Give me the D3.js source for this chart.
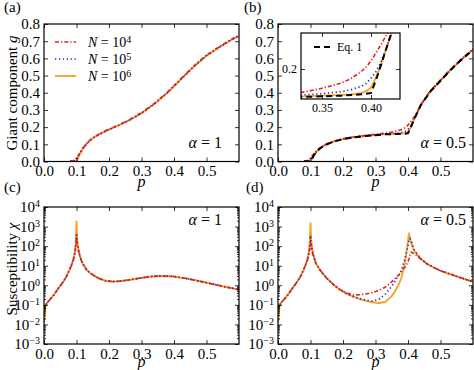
<!DOCTYPE html>
<html>
<head>
<meta charset="utf-8">
<script src="https://cdn.jsdelivr.net/npm/d3@7"></script>
<style>
body { margin: 0; background: #fff; }
text { font-family: "Liberation Serif", "DejaVu Serif", serif; fill: #000; }
</style>
</head>
<body>
<script>
const width = 474;
const height = 370;

// (a) giant component, alpha = 1
const pA  = [0.08, 0.09, 0.1, 0.11, 0.12, 0.13, 0.14, 0.15, 0.17, 0.2, 0.23, 0.26, 0.3, 0.34, 0.38, 0.42, 0.46, 0.5, 0.54, 0.57, 0.6];
const gA6 = [0, 0, 0, 0.04, 0.075, 0.1, 0.12, 0.135, 0.158, 0.185, 0.21, 0.237, 0.28, 0.335, 0.4, 0.475, 0.55, 0.615, 0.665, 0.7, 0.73];
const gA5 = [0, 0.002, 0.01, 0.045, 0.077, 0.1, 0.12, 0.136, 0.158, 0.186, 0.211, 0.238, 0.281, 0.336, 0.401, 0.476, 0.551, 0.616, 0.666, 0.701, 0.731];
const gA4 = [0.002, 0.006, 0.02, 0.05, 0.08, 0.103, 0.122, 0.138, 0.16, 0.188, 0.213, 0.24, 0.284, 0.339, 0.404, 0.479, 0.554, 0.619, 0.669, 0.704, 0.735];

// (b) giant component, alpha = 0.5 (also used for the inset)
const pB   = [0.08, 0.09, 0.1, 0.11, 0.12, 0.13, 0.14, 0.15, 0.17, 0.2, 0.23, 0.26, 0.3, 0.33, 0.35, 0.37, 0.38, 0.39, 0.395, 0.4, 0.405, 0.41, 0.415, 0.42, 0.425, 0.44, 0.47, 0.5, 0.53, 0.56, 0.6];
const gBeq = [0, 0, 0, 0.035, 0.06, 0.077, 0.09, 0.1, 0.115, 0.13, 0.14, 0.147, 0.153, 0.158, 0.159, 0.16, 0.161, 0.162, 0.163, 0.164, 0.183, 0.205, 0.228, 0.25, 0.27, 0.33, 0.41, 0.47, 0.53, 0.585, 0.65];
const gB6  = [0, 0, 0, 0.035, 0.06, 0.077, 0.09, 0.1, 0.115, 0.13, 0.14, 0.147, 0.154, 0.159, 0.16, 0.161, 0.162, 0.164, 0.1665, 0.172, 0.187, 0.205, 0.228, 0.25, 0.27, 0.33, 0.41, 0.47, 0.53, 0.585, 0.65];
const gB5  = [0, 0.002, 0.01, 0.04, 0.062, 0.078, 0.091, 0.101, 0.116, 0.131, 0.141, 0.148, 0.155, 0.161, 0.163, 0.166, 0.169, 0.174, 0.178, 0.186, 0.196, 0.21, 0.228, 0.25, 0.27, 0.331, 0.411, 0.471, 0.531, 0.586, 0.651];
const gB4  = [0.002, 0.006, 0.02, 0.045, 0.065, 0.08, 0.093, 0.103, 0.118, 0.133, 0.143, 0.15, 0.158, 0.165, 0.171, 0.179, 0.186, 0.196, 0.203, 0.212, 0.224, 0.236, 0.249, 0.262, 0.275, 0.333, 0.415, 0.475, 0.535, 0.59, 0.655];

// (c) susceptibility, alpha = 1
const pC    = [0, 0.005, 0.01, 0.02, 0.03, 0.04, 0.05, 0.06, 0.07, 0.08, 0.085, 0.09, 0.095, 0.098, 0.1, 0.102, 0.105, 0.11, 0.115, 0.12, 0.125, 0.13, 0.14, 0.15, 0.17, 0.19, 0.21, 0.23, 0.26, 0.3, 0.33, 0.36, 0.4, 0.44, 0.48, 0.52, 0.56, 0.6];
const chiC6 = [0.012, 0.09, 0.13, 0.2, 0.32, 0.55, 0.95, 1.6, 3, 7, 11, 20, 50, 200, 1800, 250, 90, 35, 18, 12, 9, 6.5, 4.5, 3.4, 2.2, 1.7, 1.55, 1.6, 1.85, 2.4, 2.8, 3.0, 2.8, 2.2, 1.6, 1.15, 0.82, 0.6];
const chiC5 = [0.07, 0.1, 0.13, 0.2, 0.32, 0.55, 0.95, 1.6, 3, 7, 11, 20, 45, 120, 380, 150, 70, 33, 18, 12, 9, 6.5, 4.5, 3.4, 2.2, 1.7, 1.55, 1.6, 1.85, 2.4, 2.8, 3.0, 2.8, 2.2, 1.6, 1.15, 0.82, 0.6];
const chiC4 = [0.07, 0.1, 0.13, 0.2, 0.32, 0.55, 0.95, 1.6, 3, 7, 11, 19, 40, 100, 300, 130, 65, 32, 18, 12, 9, 6.5, 4.5, 3.4, 2.2, 1.7, 1.55, 1.6, 1.85, 2.4, 2.8, 3.0, 2.8, 2.2, 1.6, 1.15, 0.82, 0.6];

// (d) susceptibility, alpha = 0.5
const pD    = [0, 0.005, 0.01, 0.02, 0.03, 0.04, 0.05, 0.06, 0.07, 0.08, 0.085, 0.09, 0.095, 0.098, 0.1, 0.102, 0.105, 0.11, 0.115, 0.12, 0.13, 0.14, 0.15, 0.17, 0.19, 0.21, 0.23, 0.25, 0.27, 0.29, 0.31, 0.33, 0.35, 0.36, 0.37, 0.38, 0.39, 0.395, 0.4, 0.403, 0.406, 0.41, 0.415, 0.42, 0.43, 0.44, 0.46, 0.48, 0.5, 0.53, 0.56, 0.6];
const chiD6 = [0.012, 0.09, 0.13, 0.2, 0.32, 0.55, 0.95, 1.6, 3, 7, 11, 20, 50, 200, 1500, 220, 80, 30, 16, 10.5, 5.8, 3.6, 2.3, 1.1, 0.6, 0.38, 0.27, 0.2, 0.16, 0.135, 0.125, 0.14, 0.28, 0.5, 1.0, 2.5, 14, 45, 180, 450, 250, 150, 80, 55, 35, 22, 12, 8, 5.5, 3.7, 2.5, 1.5];
const chiD5 = [0.07, 0.1, 0.13, 0.2, 0.32, 0.55, 0.95, 1.6, 3, 7, 11, 20, 45, 120, 350, 140, 65, 30, 16, 10.5, 5.8, 3.6, 2.3, 1.1, 0.6, 0.38, 0.27, 0.21, 0.175, 0.155, 0.19, 0.35, 0.9, 1.6, 3, 6, 20, 45, 110, 200, 250, 180, 100, 60, 36, 22, 12, 8, 5.5, 3.7, 2.5, 1.5];
const chiD4 = [0.07, 0.1, 0.13, 0.2, 0.32, 0.55, 0.95, 1.6, 3, 7, 11, 18, 35, 80, 150, 80, 50, 27, 15, 10, 5.8, 3.6, 2.3, 1.1, 0.62, 0.42, 0.32, 0.33, 0.36, 0.42, 0.55, 0.8, 1.5, 2.2, 3.2, 5, 8, 11, 16, 22, 35, 50, 45, 40, 30, 21, 12, 8, 5.5, 3.7, 2.5, 1.5];

// ticks and labels
const xTicks = [0, 0.1, 0.2, 0.3, 0.4, 0.5];
const gTicks = [0, 0.1, 0.2, 0.3, 0.4, 0.5, 0.6, 0.7, 0.8];
const logExps = [-3, -2, -1, 0, 1, 2, 3, 4];
const insetXTicks = [0.35, 0.40];
const insetYTicks = [0.2];
const legendExps = ["4", "5", "6"];

const serif = "Liberation Serif, DejaVu Serif, serif";

const styles = {
	n6: {color: "#f7a520", dash: null, w: 1.9},
	n5: {color: "#2a2ad8", dash: "1.3,2.6", w: 1.7},
	n4: {color: "#e4221c", dash: "4,2,1.3,2", w: 1.6},
	eq: {color: "#000", dash: "6,4", w: 2}
};

const svg = d3.select("body")
	.append("svg")
	.attr("width", width)
	.attr("height", height);

let clipId = 0;

function ticksOn(g, axis, tf) {
	g.call(axis);
	g.select(".domain").remove();
	g.selectAll(".tick line").attr("stroke", "#000").attr("stroke-width", 0.8);
	g.attr("font-family", serif).attr("font-size", tf || 15);
}

function drawPanel(box, log, series) {
	const x = d3.scaleLinear().domain(box.xd || [0, 0.6]).range([box.x0, box.x1]);
	const y = log
		? d3.scaleLog().domain([1e-3, 1e4]).range([box.y1, box.y0])
		: d3.scaleLinear().domain(box.yd || [0, 0.8]).range([box.y1, box.y0]);

	if (box.bg) {
		svg.append("rect").attr("x", box.x0).attr("y", box.y0)
			.attr("width", box.x1 - box.x0).attr("height", box.y1 - box.y0).attr("fill", "#fff");
	}

	const id = "clip" + (clipId++);
	svg.append("clipPath").attr("id", id).append("rect")
		.attr("x", box.x0).attr("y", box.y0)
		.attr("width", box.x1 - box.x0).attr("height", box.y1 - box.y0);

	const gl = svg.append("g").attr("clip-path", "url(#" + id + ")");
	series.forEach(s => {
		const st = styles[s.key];
		const line = d3.line().x((d, i) => x(s.p[i])).y(d => y(d));
		gl.append("path")
			.datum(s.v)
			.attr("d", line)
			.attr("fill", "none")
			.attr("stroke", st.color)
			.attr("stroke-width", st.w)
			.attr("stroke-dasharray", st.dash)
			.attr("stroke-linejoin", "round");
	});

	const fs = box.fs || 15;
	const xt = box.xt || xTicks;
	const fmtX = box.fmtX || d3.format(".1f");

	// bottom + top ticks
	ticksOn(svg.append("g").attr("transform", `translate(0,${box.y1})`),
		d3.axisBottom(x).tickValues(xt).tickSize(-4).tickPadding(box.padX || 4).tickFormat(fmtX), fs);
	ticksOn(svg.append("g").attr("transform", `translate(0,${box.y0})`),
		d3.axisTop(x).tickValues(xt).tickSize(-4).tickFormat(""));

	if (log) {
		const minors = [];
		logExps.slice(0, -1).forEach(e => { for (let k = 2; k < 10; k++) minors.push(k * Math.pow(10, e)); });
		const majors = logExps.map(e => Math.pow(10, e));
		const gy = svg.append("g").attr("transform", `translate(${box.x0},0)`);
		ticksOn(gy, d3.axisLeft(y).tickValues(majors).tickSize(-4).tickPadding(4).tickFormat(""), fs);
		gy.selectAll(".tick text").each(function(d) {
			const t = d3.select(this);
			const e = Math.round(Math.log10(d));
			t.append("tspan").text("10");
			t.append("tspan").attr("dy", "-0.5em").attr("font-size", 10)
				.text(e < 0 ? "\u2212" + (-e) : String(e));
		});
		ticksOn(svg.append("g").attr("transform", `translate(${box.x0},0)`),
			d3.axisLeft(y).tickValues(minors).tickSize(-2).tickFormat(""));
		ticksOn(svg.append("g").attr("transform", `translate(${box.x1},0)`),
			d3.axisRight(y).tickValues(majors).tickSize(-4).tickFormat(""));
		ticksOn(svg.append("g").attr("transform", `translate(${box.x1},0)`),
			d3.axisRight(y).tickValues(minors).tickSize(-2).tickFormat(""));
	} else {
		const yt = box.yt || gTicks;
		ticksOn(svg.append("g").attr("transform", `translate(${box.x0},0)`),
			d3.axisLeft(y).tickValues(yt).tickSize(-4).tickPadding(4).tickFormat(d3.format(".1f")), fs);
		ticksOn(svg.append("g").attr("transform", `translate(${box.x1},0)`),
			d3.axisRight(y).tickValues(yt).tickSize(-4).tickFormat(""));
	}

	svg.append("rect")
		.attr("x", box.x0).attr("y", box.y0)
		.attr("width", box.x1 - box.x0).attr("height", box.y1 - box.y0)
		.attr("fill", "none").attr("stroke", "#000").attr("stroke-width", 1.2);

	return {x, y};
}

const boxA = {x0: 44, x1: 239, y0: 24, y1: 161.5};
const boxB = {x0: 278, x1: 473, y0: 24, y1: 161.5};
const boxC = {x0: 44, x1: 239, y0: 207, y1: 344};
const boxD = {x0: 278, x1: 473, y0: 207, y1: 344};

drawPanel(boxA, false, [
	{key: "n6", p: pA, v: gA6},
	{key: "n5", p: pA, v: gA5},
	{key: "n4", p: pA, v: gA4}
]);
drawPanel(boxB, false, [
	{key: "n6", p: pB, v: gB6},
	{key: "n5", p: pB, v: gB5},
	{key: "n4", p: pB, v: gB4},
	{key: "eq", p: pB, v: gBeq}
]);
drawPanel(boxC, true, [
	{key: "n6", p: pC, v: chiC6},
	{key: "n5", p: pC, v: chiC5},
	{key: "n4", p: pC, v: chiC4}
]);
drawPanel(boxD, true, [
	{key: "n6", p: pD, v: chiD6},
	{key: "n5", p: pD, v: chiD5},
	{key: "n4", p: pD, v: chiD4}
]);

// inset of (b)
drawPanel({x0: 301, x1: 400, y0: 33, y1: 99, xd: [0.3286, 0.4296], yd: [0.155, 0.254],
	xt: insetXTicks, yt: insetYTicks, fs: 12, fmtX: d3.format(".2f"), padX: 4, bg: true}, false, [
	{key: "n6", p: pB, v: gB6},
	{key: "n5", p: pB, v: gB5},
	{key: "n4", p: pB, v: gB4},
	{key: "eq", p: pB, v: gBeq}
]);

// legend (a)
legendExps.forEach((e, i) => {
	const key = ["n4", "n5", "n6"][i];
	const st = styles[key];
	const yy = 42 + i * 17;
	svg.append("line").attr("x1", 55).attr("x2", 76).attr("y1", yy).attr("y2", yy)
		.attr("stroke", st.color).attr("stroke-width", st.w).attr("stroke-dasharray", st.dash);
	const t = svg.append("text").attr("x", 88).attr("y", yy + 5).attr("font-size", 14);
	t.append("tspan").attr("font-style", "italic").text("N");
	t.append("tspan").text(" = 10");
	t.append("tspan").attr("dy", "-0.45em").attr("font-size", 10).text(e);
});

// legend inset
svg.append("line").attr("x1", 314).attr("x2", 331).attr("y1", 47).attr("y2", 47)
	.attr("stroke", "#000").attr("stroke-width", 2).attr("stroke-dasharray", "6,4");
svg.append("text").attr("x", 337).attr("y", 51).attr("font-size", 12).text("Eq. 1");

// alpha annotations
function alphaText(xr, yb, val) {
	const t = svg.append("text").attr("x", xr).attr("y", yb).attr("text-anchor", "end").attr("font-size", 16);
	t.append("tspan").attr("font-style", "italic").text("\u03b1");
	t.append("tspan").text(" = " + val);
}
alphaText(222, 148, "1");
alphaText(466, 148, "0.5");
alphaText(222, 225, "1");
alphaText(466, 225, "0.5");

// panel letters
[["(a)", 4, 12], ["(b)", 244, 12], ["(c)", 4, 192], ["(d)", 246, 192]].forEach(d => {
	svg.append("text").attr("x", d[1]).attr("y", d[2]).attr("font-size", 15).text(d[0]);
});

// x axis titles
[[141.5, 187], [375.5, 187], [141.5, 367], [375.5, 367]].forEach(d => {
	svg.append("text").attr("x", d[0]).attr("y", d[1]).attr("text-anchor", "middle")
		.attr("font-size", 16).attr("font-style", "italic").text("p");
});

// y axis titles
const yl1 = svg.append("text").attr("transform", "translate(17,93) rotate(-90)")
	.attr("text-anchor", "middle").attr("font-size", 15);
yl1.append("tspan").text("Giant component ");
yl1.append("tspan").attr("font-style", "italic").text("g");

const yl2 = svg.append("text").attr("transform", "translate(17,269) rotate(-90)")
	.attr("text-anchor", "middle").attr("font-size", 15);
yl2.append("tspan").text("Susceptibility ");
yl2.append("tspan").attr("font-style", "italic").text("\u03c7");
</script>
</body>
</html>
